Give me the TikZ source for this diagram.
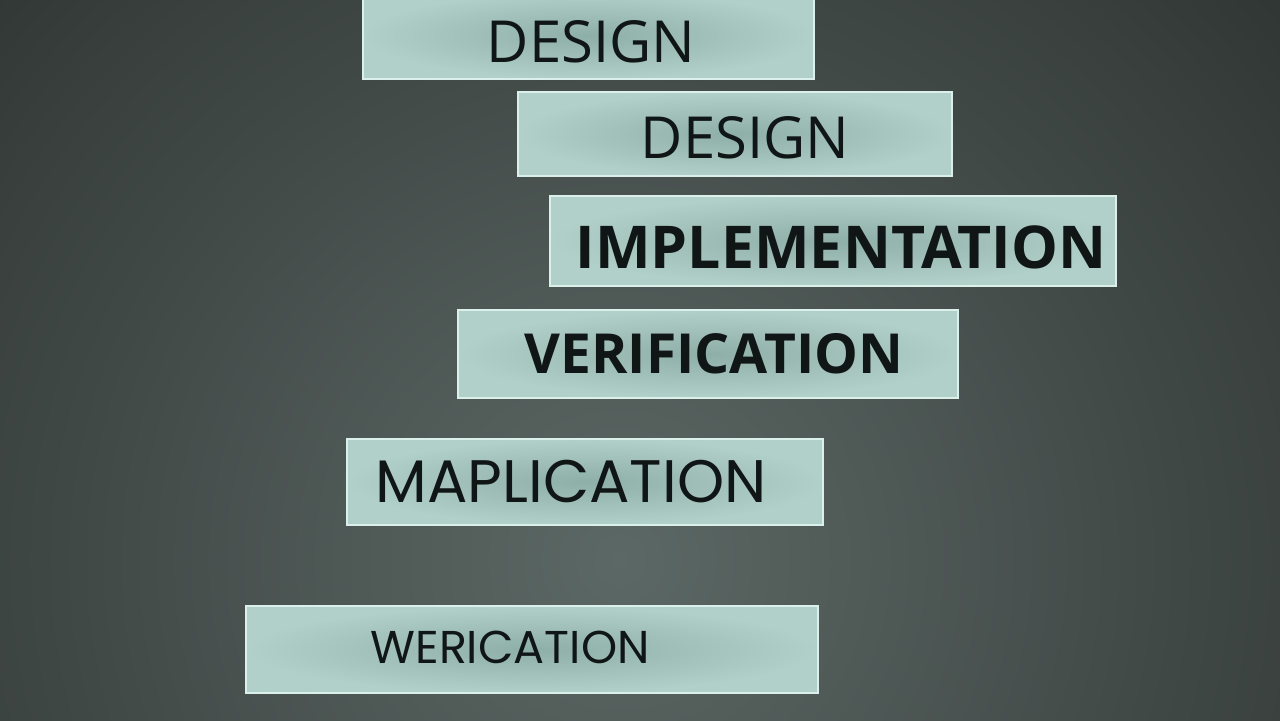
\documentclass[tikz,border=0pt]{standalone}
\usepackage{fontspec}
\setmainfont{Open Sans}
\newfontfamily\geofont{Poppins}
\usetikzlibrary{positioning}
\definecolor{bgdark}{RGB}{36,40,38}
\definecolor{bglight}{RGB}{92,104,101}
\definecolor{glassfill}{RGB}{142,174,168}
\definecolor{glassedge}{RGB}{178,208,202}
\definecolor{glassrim}{RGB}{220,240,235}
\definecolor{inkdark}{RGB}{16,22,22}

\begin{document}
\begin{tikzpicture}[x=0.5pt, y=-0.5pt,
  glassbox/.style={draw=glassrim, line width=1.2pt, inner color=glassfill, outer color=glassedge, inner sep=0pt},
  steptext/.style={text=inkdark, inner sep=0pt, anchor=center},
  boldtext/.style={steptext, font=\bfseries}]

  \useasboundingbox (0,0) rectangle (1280,720);
  \clip (0,0) rectangle (1280,720);
  \fill[bgdark] (0,0) rectangle (1280,720);
  \shade[inner color=bglight, outer color=bgdark] (620,560) circle (560pt);

  % stair of glass panels
  \node[glassbox, minimum width=225.5pt, minimum height=43.5pt] (designtop) at (588.5,35.5) {};
  \node[glassbox, minimum width=217pt, minimum height=42pt] (designlow) at (735,134) {};
  \node[glassbox, minimum width=283pt, minimum height=45pt] (implement) at (833,241) {};
  \node[glassbox, minimum width=250pt, minimum height=44pt] (verify) at (708,354) {};
  \node[glassbox, minimum width=238pt, minimum height=43pt] (maplic) at (585,482) {};
  \node[glassbox, minimum width=286pt, minimum height=43.5pt] (wericate) at (532,649.5) {};

  % labels
  \node[steptext, font=\fontsize{29}{33}\selectfont] (designtoptext) at (591,42) {DESIGN};
  \node[steptext, font=\fontsize{29}{33}\selectfont] (designlowtext) at (745,138) {DESIGN};
  \node[boldtext, font=\bfseries\fontsize{29.5}{34}\selectfont] (implementtext) at (841,247) {IMPLEMENTATION};
  \node[boldtext, font=\bfseries\fontsize{27.6}{32}\selectfont] (verifytext) at (714,354) {VERIFICATION};
  \node[steptext, font=\geofont\fontsize{30}{34}\selectfont] (maplictext) at (571,482) {MAPLICATION};
  \node[steptext, font=\geofont\fontsize{23}{26}\selectfont] (wericatetext) at (510,647) {WERICATION};
\end{tikzpicture}
\end{document}
